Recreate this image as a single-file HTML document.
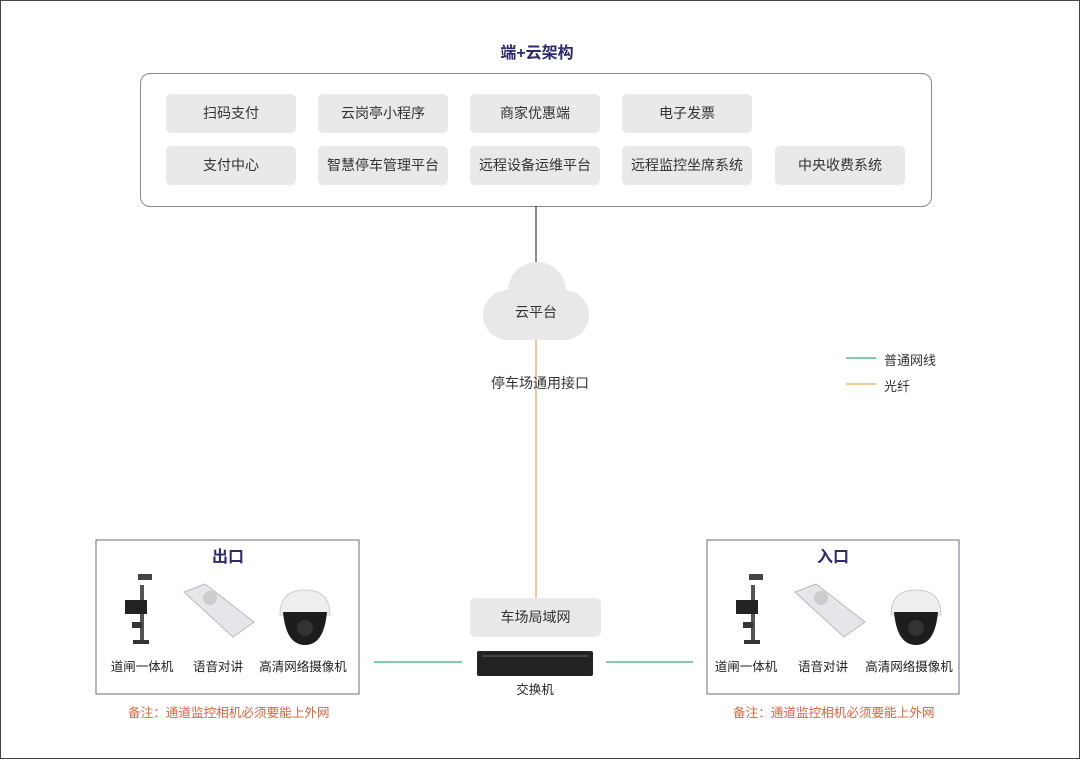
<!DOCTYPE html>
<html><head><meta charset="utf-8"><style>
body{margin:0;width:1080px;height:759px;background:#fff;position:relative;overflow:hidden;font-family:"Liberation Sans","Noto Sans CJK SC",sans-serif;color:#333}
.a{position:absolute}
.b{position:absolute;background:#e9e9eb;border-radius:5px;width:130px;height:39px;line-height:39px;text-align:center;font-size:14px;color:#333}
.t{position:absolute;font-size:12.5px;color:#222;text-align:center}
.note{position:absolute;font-size:12.6px;color:#e0643c}
</style></head><body>
<div class="a" style="left:0;top:0;width:1078px;height:757px;border:1px solid #444"></div>
<div class="a" style="left:437px;top:39px;width:200px;text-align:center;font-weight:bold;font-size:16px;color:#2d2a6e">端+云架构</div>
<div class="a" style="left:140px;top:73px;width:790px;height:132px;border:1px solid #8a8796;border-radius:10px"></div>
<div class="b" style="left:166px;top:94px">扫码支付</div>
<div class="b" style="left:318px;top:94px">云岗亭小程序</div>
<div class="b" style="left:470px;top:94px">商家优惠端</div>
<div class="b" style="left:622px;top:94px">电子发票</div>
<div class="b" style="left:166px;top:146px">支付中心</div>
<div class="b" style="left:318px;top:146px">智慧停车管理平台</div>
<div class="b" style="left:470px;top:146px">远程设备运维平台</div>
<div class="b" style="left:622px;top:146px">远程监控坐席系统</div>
<div class="b" style="left:775px;top:146px">中央收费系统</div>
<svg class="a" style="left:0;top:0" width="1080" height="759">
<line x1="536" y1="206" x2="536" y2="272" stroke="#3a3a4a" stroke-width="1.2"/>
<line x1="536" y1="335" x2="536" y2="598" stroke="#e8b87a" stroke-width="1.5"/>
<g fill="#e8e8ea">
<circle cx="537" cy="291" r="29"/><circle cx="508" cy="315" r="25"/><circle cx="564" cy="315" r="25"/>
<rect x="508" y="300" width="56" height="40"/>
</g>
<line x1="846" y1="358" x2="876" y2="358" stroke="#5cb88f" stroke-width="1.5"/>
<line x1="846" y1="384" x2="876" y2="384" stroke="#e8b87a" stroke-width="1.5"/>
<line x1="374" y1="662" x2="462" y2="662" stroke="#5cb88f" stroke-width="1.5"/>
<line x1="606" y1="662" x2="693" y2="662" stroke="#5cb88f" stroke-width="1.5"/>
<rect x="477" y="651" width="116" height="25" rx="2" fill="#222"/>
<rect x="482" y="655" width="106" height="2" fill="#444"/>
<rect x="96" y="540" width="263" height="154" fill="none" stroke="#6f6c80"/>
<rect x="707" y="540" width="252" height="154" fill="none" stroke="#6f6c80"/>
<g id="dev">
<rect x="140" y="585" width="4" height="58" fill="#555"/>
<rect x="138" y="574" width="14" height="6" fill="#444"/>
<rect x="125" y="600" width="22" height="14" fill="#222"/>
<rect x="132" y="622" width="10" height="6" fill="#333"/>
<rect x="133" y="640" width="16" height="4" fill="#333"/>
<polygon points="184,592 205,584 254,622 233,637" fill="#e4e6ea" stroke="#bbb"/>
<circle cx="210" cy="598" r="7" fill="#ccc"/>
<path d="M280 615 Q280 590 305 590 Q330 590 330 615 Z" fill="#eeeeee" stroke="#ccc"/>
<path d="M283 612 L327 612 Q324 645 305 645 Q286 645 283 612 Z" fill="#1d1d1d"/>
<circle cx="305" cy="628" r="8" fill="#333"/>
</g>
<use href="#dev" x="611" y="0"/>
</svg>
<div class="a" style="left:486px;top:302px;width:100px;text-align:center;font-size:14px">云平台</div>
<div class="a" style="left:470px;top:373px;width:140px;text-align:center;font-size:14px">停车场通用接口</div>
<div class="a" style="left:884px;top:350px;font-size:13px">普通网线</div>
<div class="a" style="left:884px;top:376px;font-size:13px">光纤</div>
<div class="b" style="left:470px;top:598px;width:131px">车场局域网</div>
<div class="t" style="left:495px;top:679px;width:80px">交换机</div>
<div class="a" style="left:178px;top:543px;width:100px;text-align:center;font-weight:bold;font-size:16px;color:#2d2a6e">出口</div>
<div class="a" style="left:783px;top:543px;width:100px;text-align:center;font-weight:bold;font-size:16px;color:#2d2a6e">入口</div>
<div class="t" style="left:104px;top:656px;width:76px">道闸一体机</div>
<div class="t" style="left:185px;top:656px;width:66px">语音对讲</div>
<div class="t" style="left:254px;top:656px;width:98px">高清网络摄像机</div>
<div class="t" style="left:708px;top:656px;width:76px">道闸一体机</div>
<div class="t" style="left:790px;top:656px;width:66px">语音对讲</div>
<div class="t" style="left:860px;top:656px;width:98px">高清网络摄像机</div>
<div class="note" style="left:128px;top:702px">备注：通道监控相机必须要能上外网</div>
<div class="note" style="left:733px;top:702px">备注：通道监控相机必须要能上外网</div>
</body></html>
